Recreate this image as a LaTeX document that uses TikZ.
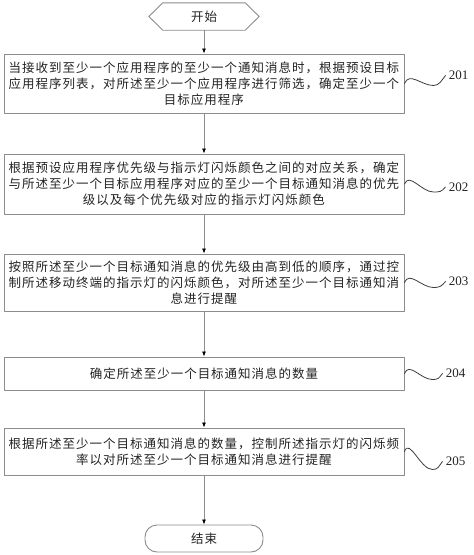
\documentclass[tikz,border=0pt]{standalone}
\usepackage{fontspec}
\setmainfont{Liberation Serif}
\newfontfamily\cjk[LetterSpace=8]{Noto Sans CJK SC}
\usetikzlibrary{arrows.meta}

\definecolor{marcogris}{RGB}{140,140,140}
\definecolor{ondagris}{RGB}{60,60,60}
\definecolor{textogris}{RGB}{35,35,35}

\begin{document}
\begin{tikzpicture}[x=1pt,y=1pt,line cap=round,line join=round,
    paso/.style={draw=marcogris,line width=0.9pt,minimum width=400pt,inner sep=0pt,
        align=center,text=textogris,font={\cjk\fontsize{12.5}{16}\selectfont}},
    extremo/.style={minimum height=27pt,inner sep=0pt,text=textogris,
        font={\cjk\fontsize{12.5}{16}\selectfont}},
    flecha/.style={marcogris,line width=0.8pt,-{Latex[length=5pt,width=4pt,color=black]}},
    onda/.style={ondagris,line width=0.8pt},
    etiqueta/.style={anchor=west,xshift=2pt,inner sep=1pt,text=textogris,
        font={\fontsize{13}{13}\selectfont}}]
        \useasboundingbox (0,0) rectangle (474,-555);

        % Inicio
        \node[extremo,minimum width=110pt] (inicio) at (204,-16.5) {开始};
        \draw[marcogris,line width=0.9pt] (inicio.west) -- ([xshift=14pt]inicio.north west)
            -- ([xshift=-14pt]inicio.north east) -- (inicio.east)
            -- ([xshift=-14pt]inicio.south east) -- ([xshift=14pt]inicio.south west) -- cycle;

        % Pasos
        \node[paso,minimum height=59pt] (p201) at (204,-83.5)
            {当接收到至少一个应用程序的至少一个通知消息时，根据预设目标\\
             应用程序列表，对所述至少一个应用程序进行筛选，确定至少一个\\
             目标应用程序};
        \node[paso,minimum height=60pt] (p202) at (204,-184)
            {根据预设应用程序优先级与指示灯闪烁颜色之间的对应关系，确定\\
             与所述至少一个目标应用程序对应的至少一个目标通知消息的优先\\
             级以及每个优先级对应的指示灯闪烁颜色};
        \node[paso,minimum height=57pt] (p203) at (204,-282.5)
            {按照所述至少一个目标通知消息的优先级由高到低的顺序，通过控\\
             制所述移动终端的指示灯的闪烁颜色，对所述至少一个目标通知消\\
             息进行提醒};
        \node[paso,minimum height=33pt] (p204) at (204,-373.5)
            {确定所述至少一个目标通知消息的数量};
        \node[paso,minimum height=47pt] (p205) at (204,-451.5)
            {根据所述至少一个目标通知消息的数量，控制所述指示灯的闪烁频\\
             率以对所述至少一个目标通知消息进行提醒};

        % Fin
        \node[extremo,draw=marcogris,line width=0.9pt,rounded corners=12pt,
            minimum width=118pt] (fin) at (204,-538.5) {结束};

        % Flechas
        \draw[flecha] (inicio.south) -- (p201.north);
        \draw[flecha] (p201.south) -- (p202.north);
        \draw[flecha] (p202.south) -- (p203.north);
        \draw[flecha] (p203.south) -- (p204.north);
        \draw[flecha] (p204.south) -- (p205.north);
        \draw[flecha] (p205.south) -- (fin.north);

        % Referencias numéricas
        \draw[onda] (p201.east) .. controls +(5,12) and +(-12,0) .. ++(29,-2)
            .. controls +(6,0) and +(-4,-5) .. ++(12,10) node[etiqueta] (n201) {201};
        \draw[onda] (p202.east) .. controls +(5,12) and +(-12,0) .. ++(29,-8)
            .. controls +(6,0) and +(-4,-5) .. ++(12,5) node[etiqueta] (n202) {202};
        \draw[onda] (p203.east) .. controls +(5,12) and +(-12,0) .. ++(29,-5)
            .. controls +(6,0) and +(-4,-5) .. ++(12,6) node[etiqueta] (n203) {203};
        \draw[onda] (p204.east) .. controls +(5,12) and +(-12,0) .. ++(28,-6)
            .. controls +(6,0) and +(-4,-5) .. ++(10,6) node[etiqueta] (n204) {204};
        \draw[onda] (p205.east) .. controls +(5,14) and +(-12,0) .. ++(28,-18)
            .. controls +(6,0) and +(-4,-5) .. ++(10,8) node[etiqueta] (n205) {205};

    \end{tikzpicture}
\end{document}
